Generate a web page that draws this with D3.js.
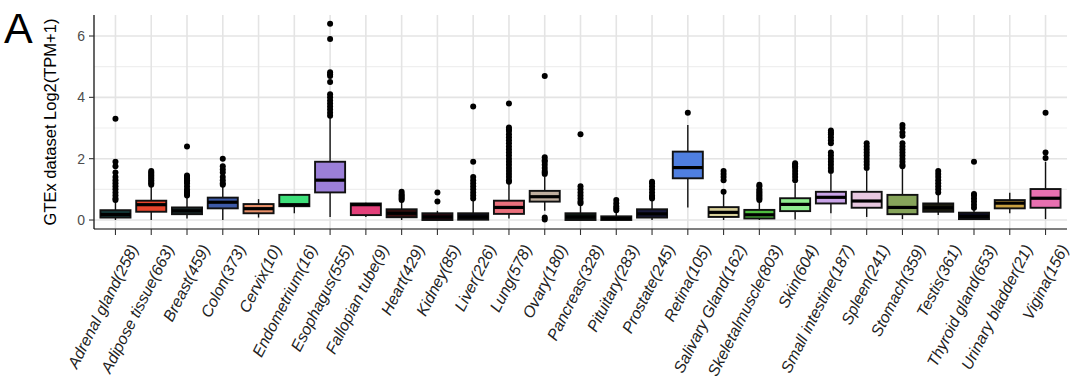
<!DOCTYPE html>
<html>
<head>
<meta charset="utf-8">
<script src="https://cdn.jsdelivr.net/npm/d3@7"></script>
<style>
  html, body { margin: 0; padding: 0; background: #fff; }
  svg { display: block; }
</style>
</head>
<body>
<svg id="chart" width="1080" height="383"></svg>
<script>
const categories = ["Adrenal gland(258)","Adipose tissue(663)","Breast(459)","Colon(373)","Cervix(10)","Endometrium(16)","Esophagus(555)","Fallopian tube(9)","Heart(429)","Kidney(85)","Liver(226)","Lung(578)","Ovary(180)","Pancreas(328)","Pituitary(283)","Prostate(245)","Retina(105)","Salivary Gland(162)","Skeletalmuscle(803)","Skin(604)","Small intestine(187)","Spleen(241)","Stomach(359)","Testis(361)","Thyroid gland(653)","Urinary bladder(21)","Vigina(156)"];

const whiskerLo = [0.0,0.0,0.05,0.0,0.08,0.22,0.1,0.1,0.0,0.0,0.0,0.05,0.3,0.0,0.0,0.0,0.41,0.0,0.0,0.02,0.22,0.1,0.03,0.16,0.0,0.22,0.03];
const q1 =        [0.08,0.27,0.19,0.38,0.22,0.45,0.9,0.16,0.09,0.0,0.01,0.2,0.6,0.0,0.0,0.08,1.36,0.1,0.05,0.29,0.54,0.4,0.19,0.27,0.03,0.38,0.4];
const median =    [0.18,0.5,0.3,0.58,0.37,0.5,1.3,0.5,0.22,0.1,0.1,0.41,0.76,0.1,0.05,0.2,1.71,0.25,0.17,0.51,0.74,0.62,0.41,0.4,0.12,0.55,0.71];
const q3 =        [0.32,0.63,0.41,0.73,0.52,0.82,1.9,0.54,0.35,0.22,0.22,0.63,0.95,0.22,0.12,0.35,2.23,0.42,0.33,0.71,0.92,0.92,0.82,0.54,0.24,0.65,1.01];
const whiskerHi = [0.6,1.1,0.75,1.1,0.68,0.82,3.35,0.56,0.6,0.3,0.65,1.2,1.4,0.5,0.28,0.65,3.1,0.85,0.6,1.2,1.5,1.6,1.7,0.85,0.35,0.89,1.9];

const outliers = [
  [0.65,0.7,0.8,0.9,1.0,1.1,1.2,1.3,1.4,1.55,1.75,1.9,3.3],
  [1.15,1.2,1.25,1.3,1.35,1.4,1.45,1.5,1.55,1.6],
  [0.8,0.85,0.9,0.95,1.0,1.1,1.2,1.25,1.3,1.35,1.4,1.45,2.4],
  [1.15,1.2,1.3,1.4,1.55,1.65,1.75,2.0],
  [],
  [],
  [3.4,3.5,3.6,3.7,3.8,3.9,4.0,4.1,4.5,4.7,4.75,4.82,5.9,6.4],
  [],
  [0.65,0.7,0.75,0.8,0.85,0.92],
  [0.6,0.9],
  [0.7,0.8,0.9,1.0,1.1,1.2,1.3,1.4,1.9,3.7],
  [1.25,1.3,1.4,1.5,1.6,1.7,1.8,1.9,2.0,2.1,2.2,2.3,2.4,2.5,2.6,2.7,2.8,2.9,2.95,3.02,3.8],
  [0.02,0.08,1.5,1.55,1.6,1.7,1.8,1.9,1.95,2.05,4.7],
  [0.55,0.6,0.7,0.8,0.9,1.0,1.1,2.8],
  [0.32,0.38,0.45,0.55,0.65],
  [0.7,0.75,0.8,0.9,1.0,1.1,1.2,1.25],
  [3.5],
  [0.92,1.3,1.4,1.5,1.6],
  [0.65,0.7,0.75,0.8,0.85,0.9,0.95,1.0,1.1,1.15],
  [1.3,1.4,1.5,1.6,1.7,1.75,1.8,1.85],
  [1.6,1.7,1.8,1.9,2.0,2.1,2.2,2.5,2.6,2.7,2.8,2.85,2.92],
  [1.7,1.8,1.9,2.0,2.1,2.2,2.3,2.4,2.5],
  [1.75,1.8,1.9,2.0,2.1,2.2,2.3,2.4,2.5,2.75,2.85,3.0,3.1],
  [0.9,1.0,1.1,1.2,1.3,1.4,1.5,1.6],
  [0.4,0.5,0.6,0.7,0.8,0.85,1.9],
  [],
  [2.02,2.2,3.5]
];

const fillColors = ["#143a3a","#e8452c","#1c2e2e","#3d5aa8","#e8906a","#3ee07a","#9b7fd8","#e3407a","#3a0e0e","#2a0810","#0c0c18","#ea707c","#bfae9e","#0c1812","#121220","#18183a","#4f7fe0","#d8d09a","#4fbe3f","#90ee90","#c9a4e8","#e8c8e0","#86a45a","#1c1c10","#0c0c24","#c8a040","#e870b0"];

const yTicks = [0, 2, 4, 6];
const yMinor = [1, 3, 5];
const yTitle = "GTEx dataset Log2(TPM+1)";
const panelLabel = "A";

const svg = d3.select("#chart");
const pLeft = 94, pRight = 1067, pTop = 15, pBottom = 229;

const x = d3.scalePoint().domain(categories).range([pLeft, pRight]).padding(0.6);
const y = d3.scaleLinear().domain([-0.293, 6.685]).range([pBottom, pTop]);
const step = x.step();
const boxW = step * 0.84;

// grid
const grid = svg.append("g");
grid.selectAll(".ymin").data(yMinor).enter().append("line")
  .attr("x1", pLeft).attr("x2", pRight).attr("y1", d => y(d)).attr("y2", d => y(d))
  .attr("stroke", "#efefef").attr("stroke-width", 1.2);
grid.selectAll(".ymaj").data(yTicks).enter().append("line")
  .attr("x1", pLeft).attr("x2", pRight).attr("y1", d => y(d)).attr("y2", d => y(d))
  .attr("stroke", "#e4e4e4").attr("stroke-width", 1.6);
grid.selectAll(".xmaj").data(categories).enter().append("line")
  .attr("x1", d => x(d)).attr("x2", d => x(d)).attr("y1", pTop).attr("y2", pBottom)
  .attr("stroke", "#e4e4e4").attr("stroke-width", 1.6);

// boxes
const idx = d3.range(categories.length);
const boxes = svg.append("g");
idx.forEach(i => {
  const cx = x(categories[i]);
  const g = boxes.append("g");
  g.append("line").attr("x1", cx).attr("x2", cx).attr("y1", y(q3[i])).attr("y2", y(whiskerHi[i]))
    .attr("stroke", "#111").attr("stroke-width", 1.4);
  g.append("line").attr("x1", cx).attr("x2", cx).attr("y1", y(q1[i])).attr("y2", y(whiskerLo[i]))
    .attr("stroke", "#111").attr("stroke-width", 1.4);
  g.append("rect").attr("x", cx - boxW / 2).attr("width", boxW)
    .attr("y", y(q3[i])).attr("height", Math.max(0.5, y(q1[i]) - y(q3[i])))
    .attr("fill", fillColors[i]).attr("stroke", "#111").attr("stroke-width", 1.9);
  g.append("line").attr("x1", cx - boxW / 2).attr("x2", cx + boxW / 2)
    .attr("y1", y(median[i])).attr("y2", y(median[i]))
    .attr("stroke", "#000").attr("stroke-width", 3.2);
  g.selectAll("circle").data(outliers[i]).enter().append("circle")
    .attr("cx", cx).attr("cy", d => y(d)).attr("r", 3).attr("fill", "#000");
});

// axes lines
svg.append("line").attr("x1", pLeft).attr("x2", pLeft).attr("y1", pTop).attr("y2", pBottom)
  .attr("stroke", "#000").attr("stroke-width", 1.2);
svg.append("line").attr("x1", pLeft).attr("x2", pRight).attr("y1", pBottom).attr("y2", pBottom)
  .attr("stroke", "#000").attr("stroke-width", 1.2);

// y ticks
const yAxisG = svg.append("g");
yAxisG.selectAll(".yt").data(yTicks).enter().append("line")
  .attr("x1", pLeft - 5).attr("x2", pLeft).attr("y1", d => y(d)).attr("y2", d => y(d))
  .attr("stroke", "#333").attr("stroke-width", 1.1);
yAxisG.selectAll(".yl").data(yTicks).enter().append("text")
  .attr("x", pLeft - 9).attr("y", d => y(d)).attr("dy", "0.36em")
  .attr("text-anchor", "end").attr("font-family", "Liberation Sans, Arial, sans-serif")
  .attr("font-size", 14).attr("fill", "#4d4d4d").text(d => d);

// x ticks and labels
const xAxisG = svg.append("g");
xAxisG.selectAll(".xt").data(categories).enter().append("line")
  .attr("x1", d => x(d)).attr("x2", d => x(d)).attr("y1", pBottom).attr("y2", pBottom + 6)
  .attr("stroke", "#333").attr("stroke-width", 1.1);
xAxisG.selectAll(".xl").data(categories).enter().append("text")
  .attr("transform", d => `translate(${x(d) + 13},${pBottom + 14}) rotate(-63)`)
  .attr("text-anchor", "end").attr("dy", "0.72em")
  .attr("font-family", "Liberation Sans, Arial, sans-serif").attr("font-style", "italic")
  .attr("font-size", 16).attr("fill", "#222").text(d => d);

// y title
svg.append("text")
  .attr("transform", `translate(56,${(pTop + pBottom) / 2}) rotate(-90)`)
  .attr("text-anchor", "middle")
  .attr("font-family", "Liberation Sans, Arial, sans-serif")
  .attr("font-size", 16.5).attr("fill", "#000").text(yTitle);

// panel label
svg.append("text").attr("x", 4).attr("y", 43)
  .attr("font-family", "Liberation Sans, Arial, sans-serif")
  .attr("font-size", 43).attr("fill", "#000").text(panelLabel);
</script>
</body>
</html>
